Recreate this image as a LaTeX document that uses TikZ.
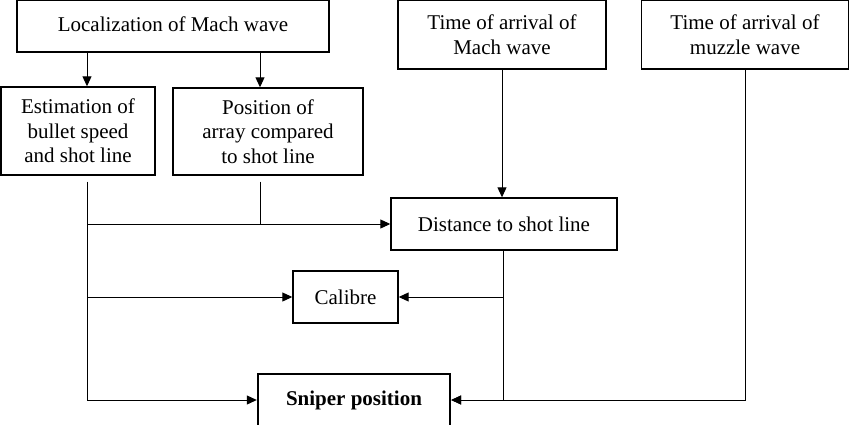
\documentclass[tikz,border=0pt]{standalone}
\usepackage{fontspec}
\setmainfont{Liberation Serif}
\usetikzlibrary{arrows.meta}
\tikzset{
  box/.style={draw, line width=1.4pt, align=center, inner sep=2pt, font=\fontsize{21}{24.5}\selectfont},
  arr/.style={-{Triangle[length=10pt,width=9pt]}, line width=1pt},
  link/.style={line width=1pt}
}
\begin{document}
\begin{tikzpicture}[x=1pt,y=-1pt]
  \useasboundingbox (0,0) rectangle (850,425);
  \node[box, minimum width=312pt, minimum height=52pt] (loc) at (173,26) {\raisebox{4pt}{Localization of Mach wave}};
  \node[box, minimum width=154pt, minimum height=88pt] (est) at (78,131) {Estimation of\\bullet speed\\and shot line};
  \node[box, minimum width=190pt, minimum height=87pt] (pos) at (268,131.5) {Position of\\array compared\\to shot line};
  \node[box, minimum width=208pt, minimum height=69pt] (tmach) at (502,34.5) {Time of arrival of\\Mach wave};
  \node[box, minimum width=207pt, minimum height=69pt] (tmuz) at (745,34.5) {Time of arrival of\\muzzle wave};
  \node[box, minimum width=226pt, minimum height=52pt] (dist) at (504,224) {Distance to shot line};
  \node[box, minimum width=105pt, minimum height=52pt] (cal) at (345.5,297) {Calibre};
  \node[box, line width=2.4pt, minimum width=192pt, minimum height=52pt, font=\fontsize{21}{24.5}\selectfont\bfseries] (snip) at (354,400) {Sniper position};
  \coordinate (spine) at (87,0);
  \coordinate (posx) at (260,0);
  \coordinate (rspine) at (503,0);
  % from the top row
  \draw[arr] (loc.south -| spine) -- (est.north -| spine);
  \draw[arr] (loc.south -| posx) -- (pos.north -| posx);
  \draw[arr] (tmach.south) -- (tmach.south |- dist.north);
  % left side
  \draw[arr, shorten <=6pt] (est.south -| spine) |- (snip.west);
  \draw[arr] (spine |- dist.west) -- (dist.west);
  \draw[arr] (spine |- cal.west) -- (cal.west);
  \draw[link, shorten <=6pt] (pos.south -| posx) -- (posx |- dist.west);
  % right side
  \draw[arr] (dist.south -| rspine) |- (snip.east);
  \draw[arr] (rspine |- cal.east) -- (cal.east);
  \draw[arr] (tmuz.south) |- (snip.east);
\end{tikzpicture}
\end{document}
